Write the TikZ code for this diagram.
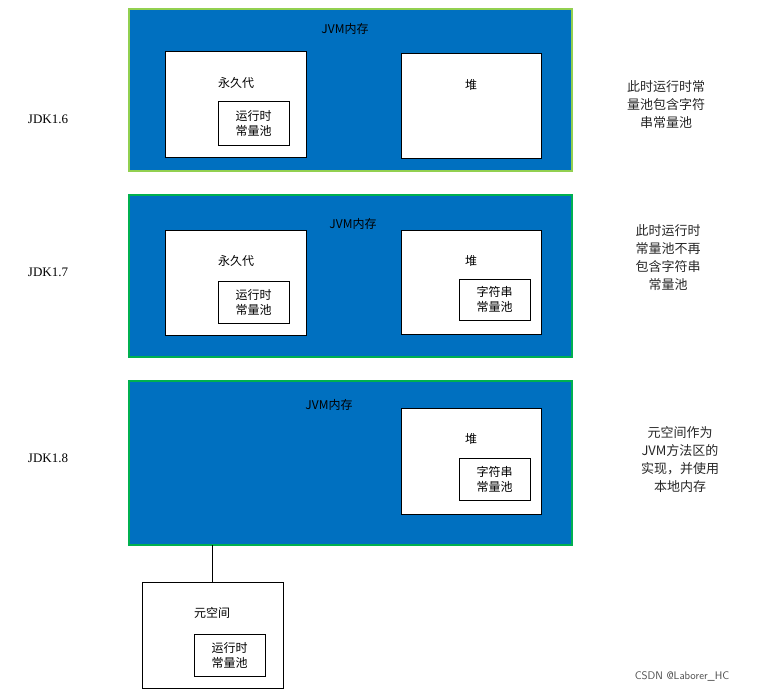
\documentclass[tikz,border=0pt]{standalone}
\usepackage{fontspec}
\newfontfamily\cjk{Noto Sans CJK SC}
\setmainfont{Liberation Serif}
\definecolor{jvmblue}{HTML}{0070C0}
\definecolor{lgreen}{HTML}{92D050}
\definecolor{dgreen}{HTML}{00B050}
\begin{document}
\begin{tikzpicture}[x=1pt,y=-1pt,
  jvm/.style={draw=dgreen,line width=2.5pt,fill=jvmblue},
  wbox/.style={draw=black,fill=white,line width=0.6pt},
  lbl/.style={font=\cjk\fontsize{12}{15}\selectfont,align=center,inner sep=0pt},
  side/.style={font=\cjk\fontsize{13}{18}\selectfont,align=center,text=black!85},
  jdk/.style={font=\fontsize{13}{15}\selectfont}]
\useasboundingbox (0,0) rectangle (769,693);
% JDK1.6
\draw[jvm,draw=lgreen] (129,9) rectangle (572,171);
\node[lbl] (j1) at (345,29) {JVM内存};
\draw[wbox] (165,51) rectangle (306,157);
\node[lbl] (p1) at (236,83) {永久代};
\node[wbox,lbl,minimum width=71pt,minimum height=44pt] (r1) at (253.5,123) {运行时\\常量池};
\draw[wbox] (401,53) rectangle (541,158);
\node[lbl] (h1) at (471,85) {堆};
\node[jdk] (d1) at (48,119) {JDK1.6};
\node[side] (s1) at (666,105) {此时运行时常\\量池包含字符\\串常量池};
% JDK1.7
\draw[jvm] (129,195) rectangle (572,357);
\node[lbl] (j2) at (353,224) {JVM内存};
\draw[wbox] (165,230) rectangle (306,335);
\node[lbl] (p2) at (236,261) {永久代};
\node[wbox,lbl,minimum width=71pt,minimum height=42pt] (r2) at (253.5,302) {运行时\\常量池};
\draw[wbox] (401,230) rectangle (541,334);
\node[lbl] (h2) at (471,261) {堆};
\node[wbox,lbl,minimum width=71pt,minimum height=41pt] (c2) at (494.5,299.5) {字符串\\常量池};
\node[jdk] (d2) at (48,272) {JDK1.7};
\node[side] (s2) at (668,258) {此时运行时\\常量池不再\\包含字符串\\常量池};
% JDK1.8
\draw[jvm] (129,381) rectangle (572,545);
\node[lbl] (j3) at (329,405) {JVM内存};
\draw[wbox] (401,408) rectangle (541,514);
\node[lbl] (h3) at (471,439) {堆};
\node[wbox,lbl,minimum width=71pt,minimum height=42pt] (c3) at (494.5,479) {字符串\\常量池};
\node[jdk] (d3) at (48,458) {JDK1.8};
\node[side] (s3) at (680,460) {元空间作为\\JVM方法区的\\实现，并使用\\本地内存};
\coordinate (top) at (212,545);
\node[wbox,minimum width=141pt,minimum height=106pt] (meta) at (212.5,635) {};
\draw[line width=0.6pt] (top) -- (meta.north -| top);
\node[lbl] (m) at (212,613) {元空间};
\node[wbox,lbl,minimum width=71pt,minimum height=42pt] (r3) at (229.5,655) {运行时\\常量池};
\node[font=\sffamily\fontsize{11}{13}\selectfont,text=black!70] (wm) at (682,676) {CSDN @Laborer\_HC};
\end{tikzpicture}
\end{document}
